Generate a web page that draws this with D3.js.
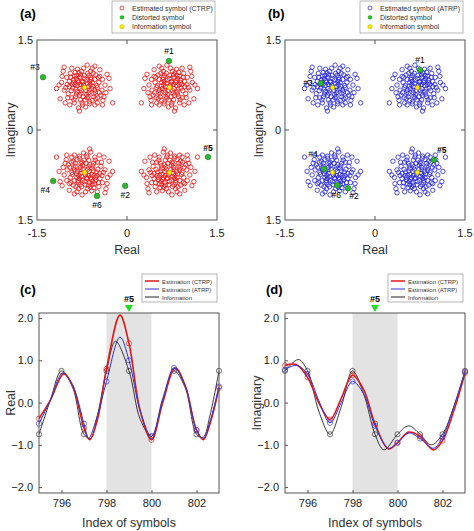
<!DOCTYPE html><html><head><meta charset="utf-8">
<script src="https://cdn.jsdelivr.net/npm/d3@7"></script>
<style>body{margin:0;background:#fff}text{font-family:"Liberation Sans",Arial,sans-serif}</style></head><body>
<svg id="c" width="474" height="531"></svg>
<script>
const infoSymbols=[[0.707,0.707],[-0.707,0.707],[-0.707,-0.707],[0.707,-0.707]];
const cloudOffsets=[[0.02,0.05],[-0.1,0.12],[0.15,-0.08],[-0.2,-0.05],[0.22,0.15],[-0.05,-0.2],[0.3,0.02],[-0.28,0.1],[0.08,0.25],[-0.15,-0.25],[0.12,0.1],[-0.08,0.02],[0.25,-0.2],[-0.32,-0.15],[0.05,-0.3],[-0.22,0.25],[0.35,0.2],[0.18,0.3],[-0.4,0.05],[0.4,-0.05],[-0.12,0.32],[0.1,-0.15],[-0.18,-0.12],[0.28,0.28],[-0.3,0.22],[0.2,-0.3],[-0.25,-0.3],[0.0,0.18],[0.06,-0.06],[-0.06,0.08],[0.14,0.04],[-0.14,-0.02],[0.32,-0.12],[-0.36,-0.25],[0.45,0.1],[-0.48,0.18],[0.02,0.38],[-0.02,-0.38],[0.38,-0.3],[-0.1,-0.32],[0.24,0.06],[-0.24,0.04],[0.1,0.2],[-0.08,-0.1],[0.18,-0.18],[-0.2,0.16],[0.05,0.12],[-0.04,-0.14],[0.3,0.12],[-0.34,-0.05],[0.55,-0.02],[-0.55,-0.3],[0.12,-0.4],[-0.3,0.35],[0.42,0.32],[0.16,0.18],[-0.12,0.2],[0.08,-0.24],[-0.18,-0.18],[0.26,-0.06],[0.0,0.0],[-0.06,0.28],[0.2,0.22],[-0.26,-0.2],[0.34,0.06],[-0.42,-0.1],[0.06,0.32],[-0.1,-0.28],[0.48,-0.22],[-0.2,0.42],
[0.04,0.1],[-0.03,-0.06],[0.09,-0.02],[-0.11,0.06],[0.13,0.14],[-0.15,0.1],[0.07,-0.11],[-0.07,-0.17],[0.19,0.06],[-0.21,-0.09],[0.16,-0.13],[-0.13,0.16],[0.01,0.24],[-0.01,-0.24],[0.23,-0.01],[-0.25,0.0],[0.11,0.29],[-0.17,0.28],[0.27,0.2],[-0.29,-0.1],[0.21,-0.24],[-0.22,-0.22],[0.33,-0.2],[-0.35,0.16],[0.37,0.0],[-0.38,-0.18],[0.14,0.36],[-0.15,0.38],[0.04,-0.34],[-0.2,-0.34],[0.29,-0.34],[0.44,0.22],[-0.44,0.26],[0.5,0.05],[-0.5,-0.02],[0.25,0.38],[-0.05,0.44],[0.1,-0.46],[-0.35,-0.34],[0.4,0.4],[0.08,0.06],[-0.04,0.15],[0.17,-0.03],[-0.09,-0.05],[0.03,-0.18],[-0.16,0.03],[0.22,0.1],[-0.27,0.2],[0.15,0.24],[-0.09,0.24]];
const clusterFlips=[[1,1],[-1,1],[1,-1],[-1,-1]];
const distortedA=[[0.7,1.15,"#1"],[-0.03,-0.93,"#2"],[-1.4,0.88,"#3"],[-1.23,-0.85,"#4"],[1.35,-0.45,"#5"],[-0.5,-1.1,"#6"]];
const distortedB=[[0.75,1.0,"#1"],[-0.45,-0.97,"#2"],[-0.9,0.78,"#3"],[-0.85,-0.65,"#4"],[0.98,-0.5,"#5"],[-0.63,-0.92,"#6"]];
const labelShiftA={"#1":[0,-7],"#2":[0,12],"#3":[-8,-7],"#4":[-8,12],"#5":[0,-6],"#6":[0,12]};
const labelShiftB={"#1":[0,-7],"#2":[6,11],"#3":[-13,3],"#4":[-11,-12],"#5":[8,-7],"#6":[-1,13]};
const cInfo=[[795,-0.75],[795.5,0.05],[796,0.75],[796.5,0.35],[797,-0.75],[797.3,-0.85],[797.6,-0.3],[798,0.75],[798.4,1.45],[799,0.75],[799.5,-0.4],[800,-0.8],[800.5,0.1],[801,0.75],[801.5,0.35],[802,-0.75],[802.3,-0.82],[802.6,-0.3],[803,0.75]];
const cCTRP=[[795,-0.38],[795.5,0.05],[796.1,0.68],[796.5,0.4],[797,-0.6],[797.25,-0.88],[797.6,-0.4],[798,0.8],[798.6,2.07],[799,1.4],[799.5,-0.2],[800,-0.88],[800.5,0.0],[801.05,0.82],[801.5,0.4],[802,-0.65],[802.3,-0.88],[802.6,-0.5],[803,0.35]];
const cATRP=[[795,-0.5],[795.5,0.05],[796.05,0.7],[796.5,0.4],[797,-0.5],[797.2,-0.85],[797.6,-0.3],[798,0.5],[798.6,1.55],[799,1.0],[799.5,-0.2],[800,-0.8],[800.5,0.05],[801,0.82],[801.5,0.4],[802,-0.65],[802.3,-0.85],[802.6,-0.45],[803,0.38]];
const dInfo=[[795,0.75],[795.6,1.02],[796,0.75],[796.5,-0.2],[797,-0.75],[797.5,-0.1],[798,0.75],[798.5,0.2],[799,-0.75],[799.4,-1.12],[800,-0.75],[800.5,-0.55],[801,-0.75],[801.5,-1.0],[802,-0.75],[802.5,-0.1],[803,0.75]];
const dCTRP=[[795,0.88],[795.5,0.9],[796,0.6],[796.5,0.0],[797,-0.4],[797.5,0.1],[798,0.65],[798.5,0.3],[799,-0.5],[799.6,-1.1],[800,-0.95],[800.5,-0.7],[801,-0.8],[801.6,-1.12],[802,-0.9],[802.5,-0.2],[803,0.7]];
const dATRP=[[795,0.78],[795.5,0.88],[796,0.68],[796.5,0.05],[797,-0.48],[797.5,0.0],[798,0.5],[798.5,0.2],[799,-0.55],[799.6,-1.08],[800,-0.95],[800.5,-0.72],[801,-0.85],[801.6,-1.08],[802,-0.82],[802.5,-0.1],[803,0.73]];
const xTicksC=[796,798,800,802];
const yTicksC=[-2,-1,0,1,2];

const svg=d3.select("#c");
function frame(g,x,y){const [x0,x1]=x.range(),[y1,y0]=y.range();
 g.append("rect").attr("x",x0).attr("y",y0).attr("width",x1-x0).attr("height",y1-y0).attr("fill","none").attr("stroke","#555").attr("stroke-width",1);}
function legend(g,x,y,w,h,items,fs){
 g.append("rect").attr("x",x).attr("y",y).attr("width",w).attr("height",h).attr("fill","#fff").attr("stroke","#999").attr("stroke-width",0.7);
 items.forEach((it,i)=>{const yy=y+5+i*(h-4)/items.length+2;
  it.draw(g,x+10,yy);
  g.append("text").attr("x",x+20).attr("y",yy+2.5).attr("font-size",fs).attr("fill","#333").text(it.t);});}

function scatter(ox,label,col,dist,shift,lname){
 const g=svg.append("g");
 const x=d3.scaleLinear().domain([-1.5,1.5]).range([ox,ox+180]);
 const y=d3.scaleLinear().domain([-1.5,1.5]).range([220,40]);
 g.append("text").attr("x",ox-17).attr("y",18).attr("font-size",13).attr("font-weight","bold").text(label);
 infoSymbols.forEach((c,ci)=>{const f=clusterFlips[ci];
  g.selectAll(null).data(cloudOffsets).enter().append("circle")
   .attr("cx",d=>x(c[0]+f[0]*d[0]*0.85)).attr("cy",d=>y(c[1]+f[1]*d[1]*0.85)).attr("r",2.2)
   .attr("fill","none").attr("stroke",col).attr("stroke-width",0.8);});
 g.selectAll(null).data(dist).enter().append("circle").attr("cx",d=>x(d[0])).attr("cy",d=>y(d[1])).attr("r",2.8).attr("fill","#2db82d").attr("stroke","#156615").attr("stroke-width",0.5);
 g.selectAll(null).data(infoSymbols).enter().append("circle").attr("cx",d=>x(d[0])).attr("cy",d=>y(d[1])).attr("r",2.3).attr("fill","#ffee00").attr("stroke","#aa9900").attr("stroke-width",0.4);
 g.selectAll(null).data(dist).enter().append("text").attr("x",d=>x(d[0])+shift[d[2]][0]).attr("y",d=>y(d[1])+shift[d[2]][1]).attr("text-anchor","middle").attr("font-size",8.5).attr("font-weight",d=>d[2]=="#5"?"bold":"normal").text(d=>d[2]);
 frame(g,x,y);
 [[x(-1.5),"-1.5"],[x(0),"0"],[x(1.5),"1.5"]].forEach(t=>g.append("text").attr("x",t[0]).attr("y",237).attr("text-anchor","middle").attr("font-size",11).attr("fill","#222").text(t[1]));
 [[y(1.5)+4,"1.5"],[y(0)+4,"0"],[y(-1.5)+4,"1.5"]].forEach(t=>g.append("text").attr("x",ox-4).attr("y",t[0]).attr("text-anchor","end").attr("font-size",11).attr("fill","#222").text(t[1]));
 g.append("line").attr("x1",x(0)).attr("x2",x(0)).attr("y1",220).attr("y2",216).attr("stroke","#555");
 g.append("line").attr("x1",x(0)).attr("x2",x(0)).attr("y1",40).attr("y2",44).attr("stroke","#555");
 g.append("line").attr("x1",ox).attr("x2",ox+4).attr("y1",y(0)).attr("y2",y(0)).attr("stroke","#555");
 g.append("line").attr("x1",ox+180).attr("x2",ox+176).attr("y1",y(0)).attr("y2",y(0)).attr("stroke","#555");
 g.append("text").attr("x",ox+90).attr("y",254).attr("text-anchor","middle").attr("font-size",12.5).attr("fill","#333").text("Real");
 g.append("text").attr("transform",`translate(${ox-22},130) rotate(-90)`).attr("text-anchor","middle").attr("font-size",12.5).attr("fill","#333").text("Imaginary");
 legend(g,ox+75,1,103,32,[
  {t:lname,draw:(g,a,b)=>g.append("circle").attr("cx",a).attr("cy",b).attr("r",2).attr("fill","none").attr("stroke",col).attr("stroke-width",0.7)},
  {t:"Distorted symbol",draw:(g,a,b)=>g.append("circle").attr("cx",a).attr("cy",b).attr("r",2.2).attr("fill","#2db82d")},
  {t:"Information symbol",draw:(g,a,b)=>g.append("circle").attr("cx",a).attr("cy",b).attr("r",2.2).attr("fill","#ffee00").attr("stroke","#aa9900").attr("stroke-width",0.4)}],7);
}
scatter(37,"(a)","#ee1111",distortedA,labelShiftA,"Estimated symbol (CTRP)");
scatter(285,"(b)","#2222dd",distortedB,labelShiftB,"Estimated symbol (ATRP)");

function series(ox,label,ylab,info,ctrp,atrp){
 const g=svg.append("g");
 const x=d3.scaleLinear().domain([795,803]).range([ox,ox+180]);
 const y=d3.scaleLinear().domain([-2.14,2.12]).range([493,313]);
 g.append("text").attr("x",ox-19).attr("y",294).attr("font-size",13).attr("font-weight","bold").text(label);
 g.append("rect").attr("x",x(798)).attr("y",313).attr("width",x(800)-x(798)).attr("height",180).attr("fill","#e3e3e3");
 const line=d3.line().x(d=>x(d[0])).y(d=>y(d[1])).curve(d3.curveCatmullRom.alpha(0.5));
 const sets=[[info,"#222",0.9],[ctrp,"#e01818",1.6],[atrp,"#3030d8",1.0]];
 sets.forEach(s=>{
  g.append("path").attr("d",line(s[0])).attr("fill","none").attr("stroke",s[1]).attr("stroke-width",s[2]);
  g.selectAll(null).data(s[0].filter(d=>Number.isInteger(d[0]))).enter().append("circle").attr("cx",d=>x(d[0])).attr("cy",d=>y(d[1])).attr("r",2.6).attr("fill","none").attr("stroke",s[1]).attr("stroke-width",0.8).attr("opacity",0.8);});
 frame(g,x,y);
 const ax=g.append("g").attr("transform","translate(0,493)").call(d3.axisBottom(x).tickValues(xTicksC).tickSize(-3).tickPadding(6));
 const ay=g.append("g").attr("transform",`translate(${ox},0)`).call(d3.axisLeft(y).tickValues(yTicksC).tickSize(-3).tickPadding(6));
 [ax,ay].forEach(a=>{a.select(".domain").remove();a.selectAll("text").attr("font-size",11).attr("fill","#222").attr("font-family","Liberation Sans, Arial, sans-serif");a.selectAll("line").attr("stroke","#555");});
 g.append("text").attr("x",ox+90).attr("y",527).attr("text-anchor","middle").attr("font-size",12.5).attr("fill","#333").text("Index of symbols");
 g.append("text").attr("transform",`translate(${ox-24},403) rotate(-90)`).attr("text-anchor","middle").attr("font-size",12.5).attr("fill","#333").text(ylab);
 const tx=x(799);
 g.append("path").attr("d",`M${tx-4},305 L${tx+4},305 L${tx},312 Z`).attr("fill","#22dd22");
 g.append("text").attr("x",tx).attr("y",302).attr("text-anchor","middle").attr("font-size",9).attr("font-weight","bold").text("#5");
 legend(g,ox+103,274,75,28,[
  {t:"Estimation (CTRP)",draw:(g,a,b)=>g.append("line").attr("x1",a-7).attr("x2",a+7).attr("y1",b).attr("y2",b).attr("stroke","#e01818").attr("stroke-width",1.5)},
  {t:"Estimation (ATRP)",draw:(g,a,b)=>g.append("line").attr("x1",a-7).attr("x2",a+7).attr("y1",b).attr("y2",b).attr("stroke","#3030d8")},
  {t:"Information",draw:(g,a,b)=>g.append("line").attr("x1",a-7).attr("x2",a+7).attr("y1",b).attr("y2",b).attr("stroke","#222")}],6);
}
series(39,"(c)","Real",cInfo,cCTRP,cATRP);
series(285,"(d)","Imaginary",dInfo,dCTRP,dATRP);
</script></body></html>
